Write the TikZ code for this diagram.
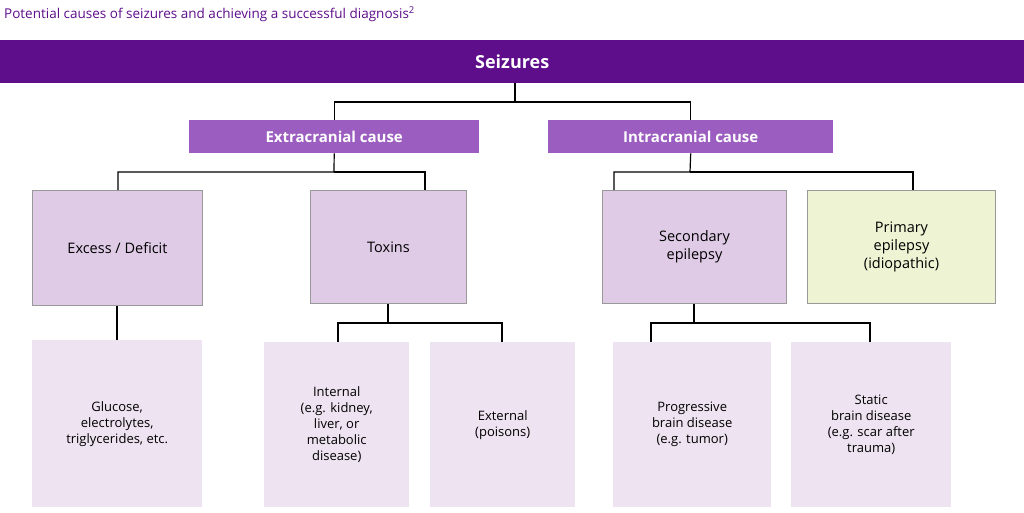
\documentclass[tikz,border=0pt]{standalone}
\usepackage{fontspec}
\setmainfont{Open Sans}
\definecolor{dark}{HTML}{5E0D8B}
\definecolor{mid}{HTML}{9B5DBF}
\definecolor{lvl}{HTML}{DFCBE6}
\definecolor{leaf}{HTML}{EEE3F1}
\definecolor{prim}{HTML}{EEF3D3}
\definecolor{edge}{HTML}{999999}
\begin{document}
\begin{tikzpicture}[x=1pt,y=-1pt,
  box/.style={anchor=north west,inner sep=0pt,align=center,font=\fontsize{13}{16}\selectfont},
  cause/.style={box,fill=mid,text=white,font=\bfseries\fontsize{15}{18}\selectfont},
  lv/.style={box,fill=lvl,draw=edge,line width=1pt,font=\fontsize{14.5}{18}\selectfont},
  lf/.style={box,fill=leaf},
  ln/.style={draw=black,line width=1.2pt}]
\useasboundingbox (0,0) rectangle (1024,512);
\node[anchor=west,text=dark,font=\fontsize{13.5}{16}\selectfont,inner sep=0pt] (title) at (4,14) {Potential causes of seizures and achieving a successful diagnosis\textsuperscript{2}};
\node[box,fill=dark,text=white,minimum width=1024pt,minimum height=43pt,font=\bfseries\fontsize{18}{20}\selectfont] (seiz) at (0,40) {Seizures};
\node[cause,minimum width=290pt,minimum height=33pt] (ext) at (189,120) {Extracranial cause};
\node[cause,minimum width=285pt,minimum height=33pt] (int) at (548,120) {Intracranial cause};
\node[lv,minimum width=170pt,minimum height=115pt] (exc) at (32,190) {Excess / Deficit};
\node[lv,minimum width=156pt,minimum height=113pt] (tox) at (310,190) {Toxins};
\node[lv,minimum width=184pt,minimum height=113pt] (sec) at (602,190) {Secondary\\epilepsy};
\node[lv,fill=prim,minimum width=188pt,minimum height=113pt] (pri) at (807,190) {Primary\\epilepsy\\(idiopathic)};
\node[lf,minimum width=170pt,minimum height=167pt] (glu) at (32,340) {Glucose,\\electrolytes,\\triglycerides, etc.};
\node[lf,minimum width=145pt,minimum height=165pt] (in) at (264,342) {Internal\\(e.g. kidney,\\liver, or\\metabolic\\disease)};
\node[lf,minimum width=145pt,minimum height=165pt] (ex) at (430,342) {External\\(poisons)};
\node[lf,minimum width=158pt,minimum height=165pt] (pro) at (613,342) {Progressive\\brain disease\\(e.g. tumor)};
\node[lf,minimum width=160pt,minimum height=165pt] (sta) at (791,342) {Static\\brain disease\\(e.g. scar after\\trauma)};
\draw[ln] (seiz.south -| 515,0) -- (515,102) -| (ext.north);
\draw[ln] (515,102) -| (int.north);
\draw[ln] (ext.south) -- (334,172) -| (exc.north -| 118,0);
\draw[ln] (334,172) -| (tox.north -| 425,0);
\draw[ln] (int.south) -- (690,172) -| (sec.north -| 614,0);
\draw[ln] (690,172) -| (pri.north -| 913,0);
\draw[ln] (exc.south -| 117,0) -- (glu.north -| 117,0);
\draw[ln] (tox.south -| 388,0) -- (388,323) -| (in.north -| 338,0);
\draw[ln] (388,323) -| (ex.north -| 502,0);
\draw[ln] (sec.south -| 694,0) -- (694,323) -| (pro.north -| 651,0);
\draw[ln] (694,323) -| (sta.north -| 870,0);
\end{tikzpicture}
\end{document}
